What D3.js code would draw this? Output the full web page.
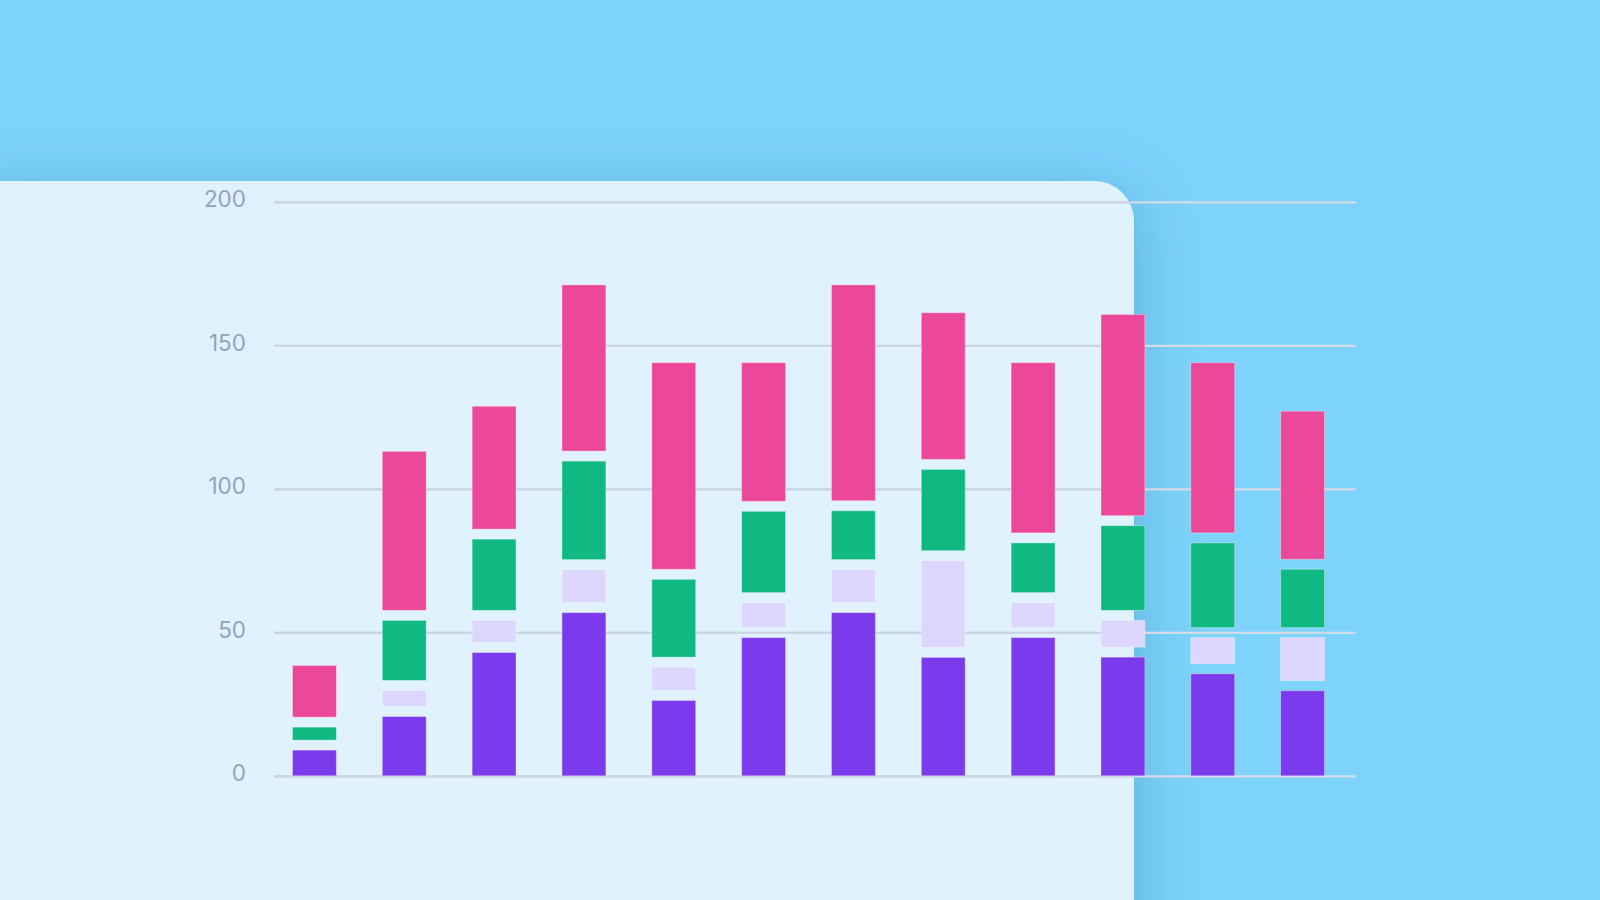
<!DOCTYPE html>
<html>
<head>
<meta charset="utf-8">
<script src="https://cdn.jsdelivr.net/npm/d3@7"></script>
<style>
  html, body { margin: 0; padding: 0; overflow: hidden; background: #7dd3fc; }
  svg { display: block; }
</style>
</head>
<body>
<svg id="chart" width="1600" height="900"></svg>
<script>
// ---- data ----
const categories = ["Jan","Feb","Mar","Apr","May","Jun","Jul","Aug","Sep","Oct","Nov","Dec"];
const seriesKeys = ["violet","lavender","emerald","pink"];
const violetValues   = [9.3, 21.0, 43.3, 57.2, 26.6, 48.5, 57.2, 41.6, 48.5, 41.7, 35.9, 30.0];
const lavenderValues = [0,   9.1, 11.2, 15.0, 11.6, 12.2, 15.0, 33.7, 12.2, 12.8, 12.6, 18.5];
const emeraldValues  = [8.0, 24.4, 28.3, 37.8, 30.6, 31.8, 20.5, 31.8, 20.8, 33.0, 33.0, 23.8];
const pinkValues     = [21.5, 58.9, 46.3, 61.4, 75.5, 51.8, 78.7, 54.6, 62.8, 73.6, 62.8, 55.1];
const yTicks = [0, 50, 100, 150, 200];

// table built from the arrays
const table = categories.map((c, i) => ({
  cat: c,
  violet: violetValues[i],
  lavender: lavenderValues[i],
  emerald: emeraldValues[i],
  pink: pinkValues[i]
}));

const colors = { violet: "#7c3aed", lavender: "#ddd6fe", emerald: "#10b981", pink: "#ec4899" };

const svg = d3.select("#chart");
const W = 1600, H = 900;

// background
svg.append("rect").attr("width", W).attr("height", H).attr("fill", "#7dd3fc");

const defs = svg.append("defs");
const shadow = defs.append("filter").attr("id", "panelShadow")
  .attr("x", "-20%").attr("y", "-30%").attr("width", "140%").attr("height", "160%");
shadow.append("feDropShadow").attr("dx", 6).attr("dy", 8).attr("stdDeviation", 30)
  .attr("flood-color", "#0c4a6e").attr("flood-opacity", 0.24);

// panel
const panelX = -60, panelY = 181, panelR = 40, panelRight = 1134;
svg.append("rect")
  .attr("x", panelX).attr("y", panelY)
  .attr("width", panelRight - panelX).attr("height", H - panelY + 100)
  .attr("rx", panelR).attr("ry", panelR)
  .attr("fill", "#e0f2fe")
  .attr("filter", "url(#panelShadow)");

defs.append("clipPath").attr("id", "panelClip").append("rect")
  .attr("x", panelX).attr("y", panelY)
  .attr("width", panelRight - panelX).attr("height", H - panelY + 100)
  .attr("rx", panelR).attr("ry", panelR);

// scales
const y = d3.scaleLinear().domain([0, 200]).range([776.3, 202.3]);
const x = d3.scaleBand().domain(categories).range([274, 1343]).paddingInner(0.5).paddingOuter(0.2);
const gridX0 = 274, gridX1 = 1356;

// gridlines (outside panel slightly lighter, inside panel slate-300)
const gridOuter = svg.append("g");
gridOuter.selectAll("line").data(yTicks).join("line")
  .attr("x1", gridX0).attr("x2", gridX1)
  .attr("y1", d => y(d)).attr("y2", d => y(d))
  .attr("stroke", "#d2dce6").attr("stroke-width", 2.2);
const gridInner = svg.append("g").attr("clip-path", "url(#panelClip)");
gridInner.selectAll("line").data(yTicks).join("line")
  .attr("x1", gridX0).attr("x2", gridX1)
  .attr("y1", d => y(d)).attr("y2", d => y(d))
  .attr("stroke", "#cad5e2").attr("stroke-width", 2.2);

// y axis labels
svg.append("g").selectAll("text").data(yTicks).join("text")
  .attr("x", 246).attr("y", d => y(d) - 1)
  .attr("text-anchor", "end").attr("dominant-baseline", "middle")
  .attr("font-family", "Inter, 'Noto Sans', sans-serif")
  .attr("font-size", 22.5).attr("fill", "#94a3b8")
  .text(d => d3.format("d")(d));

// stacked bars with gaps between segments
const gap = 9;
const stacked = d3.stack().keys(seriesKeys)(table);
const layers = svg.append("g").selectAll("g").data(stacked).join("g")
  .attr("fill", d => colors[d.key]);
layers.selectAll("rect")
  .data(d => d.filter(s => s[1] - s[0] > 0))
  .join("rect")
  .attr("x", d => x(d.data.cat) + 0.5)
  .attr("width", x.bandwidth() - 1)
  .attr("y", d => y(d[1]) + 0.5)
  .attr("height", d => Math.max(0, (y(d[0]) - (d[0] > 0 ? gap : 0)) - y(d[1]) - 1))
  .attr("stroke", "rgba(255,255,255,0.35)")
  .attr("stroke-width", 1);
</script>
</body>
</html>
